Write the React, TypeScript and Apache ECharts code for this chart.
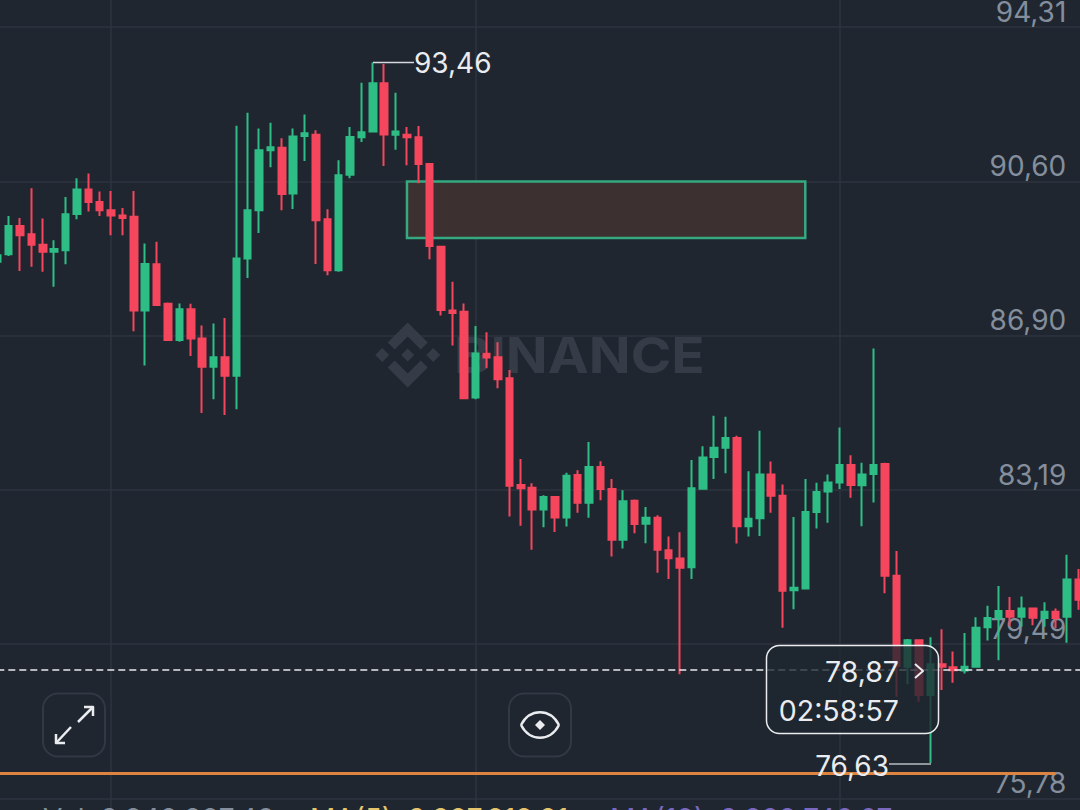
import React, { useEffect, useRef } from "react";
import * as echarts from "echarts";

const opens = [88.67,88.85,89.53,89.33,89.08,88.91,88.95,89.82,90.41,90.11,89.91,89.78,89.75,87.50,88.61,87.66,86.79,87.53,86.83,86.15,86.38,85.93,88.75,89.91,91.35,91.41,90.31,91.69,91.72,89.69,88.47,90.76,91.66,91.80,92.96,91.72,91.72,91.66,91.02,89.03,87.50,87.47,85.41,86.46,86.38,85.87,83.31,83.24,82.72,83.02,82.53,83.55,82.88,83.74,83.21,81.99,82.93,82.38,82.52,81.74,81.54,81.33,83.22,83.98,84.20,84.44,82.32,82.51,83.56,83.05,80.78,80.82,82.66,83.15,83.37,83.79,83.30,83.57,83.81,81.13,78.94,79.58,78.26,79.00,78.93,78.85,78.94,79.89,80.11,80.28,80.14,80.34,80.11,80.26,80.14,81.04];
const closes = [88.83,89.53,89.31,89.08,88.91,88.98,89.81,90.41,90.11,89.91,89.78,89.72,87.50,88.62,87.63,86.79,87.53,86.83,86.15,86.38,85.93,88.75,89.91,91.35,91.42,90.30,91.68,91.76,89.67,88.47,90.75,91.67,91.78,92.96,91.73,91.80,91.66,91.02,89.05,87.51,87.44,85.39,86.47,86.37,85.85,83.29,83.23,82.72,83.02,82.53,83.53,82.88,83.74,83.21,81.99,82.92,82.37,82.52,81.75,81.55,81.32,83.23,83.97,84.20,84.44,82.32,82.50,83.56,83.05,80.77,80.84,82.66,83.14,83.37,83.79,83.31,83.56,83.79,81.13,78.96,79.58,78.26,79.00,78.94,78.86,78.94,79.88,80.11,80.28,80.14,80.34,80.12,80.26,80.11,81.04,80.55];
const lows = [88.59,88.81,88.45,88.55,88.43,88.07,88.61,89.69,89.88,89.77,89.31,89.31,87.00,86.18,87.61,86.77,86.75,86.41,85.04,85.37,84.99,85.13,88.28,89.36,90.94,89.91,89.94,91.09,88.62,88.35,88.43,90.68,91.55,91.80,90.97,91.36,90.99,90.56,88.73,87.38,86.66,85.37,85.37,86.11,85.63,82.55,82.33,81.75,82.29,82.18,82.31,82.64,82.52,82.94,81.59,81.78,82.15,81.91,81.20,81.05,78.76,81.05,83.20,83.45,83.59,81.90,82.07,82.08,82.64,79.88,80.32,80.82,82.26,82.40,83.21,83.00,82.32,82.89,80.71,78.22,78.52,78.10,76.63,78.38,78.56,78.78,78.94,79.57,79.10,79.92,79.90,79.94,79.90,79.87,79.52,80.31];
const highs = [88.95,89.77,89.72,90.44,89.71,89.19,90.23,90.68,90.79,90.36,90.37,89.96,90.37,89.11,89.15,87.69,87.67,87.66,87.14,87.19,87.32,91.94,92.25,91.87,92.01,91.64,91.87,92.21,91.83,89.93,91.11,91.91,92.97,93.46,93.42,92.73,91.91,91.93,91.03,89.03,88.19,87.67,87.13,86.98,86.74,86.07,83.93,83.35,83.06,83.02,83.60,83.66,84.34,83.88,83.45,83.18,82.96,82.78,82.58,82.07,82.17,83.91,84.24,84.97,84.95,84.49,83.64,84.61,83.87,83.32,82.54,83.45,83.36,83.56,84.69,84.02,83.84,86.59,83.84,81.72,79.61,79.58,79.65,79.84,79.31,79.75,80.13,80.41,80.88,80.62,80.63,80.34,80.49,80.34,81.63,81.29];
const priceTicks = [75.78, 79.49, 83.19, 86.90, 90.60, 94.31];
const verticalGridCandles = [10, 42, 74];
const lastPrice = 78.87;
const orangeLevel = 76.39;
const boxTop = 90.6;
const boxBottom = 89.24;
const boxFromCandle = 36;
const boxToCandle = 71;
const orangeEndCandle = 93;
const highLabel = "93,46";
const lowLabel = "76,63";
const countdown = "02:58:57";
const volumeText = "Vol: 3,848,887.49";
const ma5Text = "MA(5): 3,887,818.81";
const ma10Text = "MA(10): 3,888,746.67";

const BG = "#1f2630";
const GRID = "#2f353f";
const GREEN = "#2ebd85";
const RED = "#f6465d";
const FONT = "Inter";
const WHITE = "#eaecef";
const WM = "#363c47";

const categories = Array.from({ length: opens.length + 1 }, (_, i) => String(i));
const candles = opens.map((o, i) => [o, closes[i], lows[i], highs[i]]);

function line(x1: number, y1: number, x2: number, y2: number, stroke: string, lineWidth: number, z: number) {
  return { type: "line", z, silent: true, shape: { x1, y1, x2, y2 }, style: { stroke, lineWidth } };
}
function text(t: string, x: number, y: number, fontSize: number, fill: string, align: string, z: number, verticalAlign = "middle", fontWeight: any = 400) {
  return { type: "text", z, silent: true, x, y, style: { text: t, fill, fontSize, fontFamily: FONT, align, verticalAlign, fontWeight } };
}
function poly(points: number[][], fill: string, z: number) {
  return { type: "polygon", z, silent: true, shape: { points }, style: { fill } };
}
function polyl(points: number[][], stroke: string, lineWidth: number, z: number) {
  return { type: "polyline", z, silent: true, shape: { points }, style: { stroke, lineWidth, fill: "none", lineJoin: "round" } };
}
function button(x: number, y: number, z: number) {
  return { type: "rect", z, silent: true, shape: { x, y, width: 62, height: 63, r: 15 }, style: { fill: "rgba(31,38,48,0.6)", stroke: "#323844", lineWidth: 2 } };
}

function watermark() {
  const cx = 407.7, cy = 355, z = 1;
  const d = (x: number, y: number, h: number) => [[x, y - h], [x + h, y], [x, y + h], [x - h, y]];
  const chev = (s: number) => [[cx, cy - 32.5 * s], [cx + 20, cy - 12.5 * s], [cx + 13, cy - 5.5 * s], [cx, cy - 18.5 * s], [cx - 13, cy - 5.5 * s], [cx - 20, cy - 12.5 * s]];
  return [
    poly(chev(1), WM, z), poly(chev(-1), WM, z),
    poly(d(cx, cy, 6.5), WM, z), poly(d(cx - 25.5, cy, 7), WM, z), poly(d(cx + 25.5, cy, 7), WM, z),
    { type: "text", z, silent: true, x: 454, y: 355, scaleX: 1.1, style: { text: "BINANCE", fill: WM, fontSize: 50, fontWeight: 700, fontFamily: FONT, align: "left", verticalAlign: "middle" } },
  ];
}

function overlays() {
  const z = 100;
  return [
    line(373, 62.4, 414, 62.4, "#d5d8dc", 1.5, z),
    text(highLabel, 414, 63, 28, WHITE, "left", z),
    line(889, 764, 931, 764, "#b9bdc2", 1.5, z),
    text(lowLabel, 889, 766, 28, WHITE, "right", z),
    { type: "rect", z, silent: true, shape: { x: 766.5, y: 645.5, width: 172, height: 88, r: 13 }, style: { fill: "rgba(31,38,48,0.78)", stroke: WHITE, lineWidth: 1.5 } },
    text(String(lastPrice).replace(".", ","), 899, 671, 28.5, WHITE, "right", z + 1),
    text(countdown, 899, 710, 28.5, WHITE, "right", z + 1),
    polyl([[915, 664], [923, 671], [915, 678]], WHITE, 2, z + 1),
    button(43, 693.5, z),
    polyl([[84, 707], [93, 707], [93, 716]], WHITE, 2.5, z + 1),
    line(93, 707, 78, 722, WHITE, 2.5, z + 1),
    polyl([[56, 734], [56, 743], [65, 743]], WHITE, 2.5, z + 1),
    line(56, 743, 71, 727, WHITE, 2.5, z + 1),
    button(509, 693.5, z),
    { type: "bezierCurve", z: z + 1, silent: true, shape: { x1: 521, y1: 725, cpx1: 530, cpy1: 708, cpx2: 550, cpy2: 708, x2: 559, y2: 725 }, style: { stroke: WHITE, lineWidth: 2.5, fill: "none" } },
    { type: "bezierCurve", z: z + 1, silent: true, shape: { x1: 521, y1: 725, cpx1: 530, cpy1: 742, cpx2: 550, cpy2: 742, x2: 559, y2: 725 }, style: { stroke: WHITE, lineWidth: 2.5, fill: "none" } },
    poly([[540, 720], [545, 725], [540, 730], [535, 725]], WHITE, z + 1),
    text(volumeText, 43, 805, 28, "#848e9c", "left", z, "top"),
    text(ma5Text, 310, 805, 28, "#e5c46b", "left", z, "top"),
    text(ma10Text, 610, 805, 28, "#7a68c0", "left", z, "top"),
  ];
}

export default function App() {
  const ref = useRef<HTMLDivElement>(null);
  useEffect(() => {
    document.body.style.margin = "0";
    document.body.style.background = BG;
    const chart = echarts.init(ref.current as HTMLDivElement, undefined, { renderer: "svg" });
    chart.setOption({
      animation: false,
      backgroundColor: BG,
      grid: { left: -2.7, right: -9.78, top: 0, bottom: 0, outerBoundsMode: "none" },
      xAxis: {
        type: "category",
        data: categories,
        boundaryGap: false,
        axisLine: { show: false },
        axisTick: { show: false },
        axisLabel: { show: false },
        splitLine: {
          show: true,
          interval: (i: number) => verticalGridCandles.includes(i),
          lineStyle: { color: GRID, width: 1.5 },
        },
      },
      yAxis: {
        type: "value",
        position: "right",
        min: 75.5,
        max: 94.96,
        axisLine: { show: false },
        axisTick: { show: false, customValues: priceTicks },
        splitLine: { show: true, lineStyle: { color: GRID, width: 1.5 } },
        axisLabel: {
          show: true,
          inside: true,
          customValues: priceTicks,
          margin: 23.5,
          color: "#848e9c",
          fontSize: 28,
          fontFamily: FONT,
          verticalAlign: "bottom",
          padding: [0, 0, 1, 0],
          formatter: (v: number) => v.toFixed(2).replace(".", ","),
        },
      },
      series: [
        {
          type: "candlestick",
          data: candles,
          barWidth: 7,
          itemStyle: { color: GREEN, color0: RED, borderColor: GREEN, borderColor0: RED, borderWidth: 2 },
          markArea: {
            silent: true,
            itemStyle: { color: "#3c3030", borderColor: "#35a980", borderWidth: 2.5 },
            data: [[{ xAxis: String(boxFromCandle), yAxis: boxTop }, { xAxis: String(boxToCandle), yAxis: boxBottom }]],
          },
          markLine: {
            silent: true,
            symbol: "none",
            label: { show: false },
            data: [
              [
                { coord: ["0", lastPrice], lineStyle: { color: "#e8e9eb", type: [7, 4], width: 1.5 } },
                { coord: [String(opens.length), lastPrice] },
              ],
              [
                { coord: ["0", orangeLevel], lineStyle: { color: "#dc8440", type: "solid", width: 3 } },
                { coord: [String(orangeEndCandle), orangeLevel] },
              ],
            ],
          },
        },
      ],
      graphic: { elements: [...watermark(), ...overlays()] },
    } as any);
    return () => chart.dispose();
  }, []);
  return <div ref={ref} style={{ position: "fixed", left: 0, top: 0, width: 1080, height: 810 }} />;
}
